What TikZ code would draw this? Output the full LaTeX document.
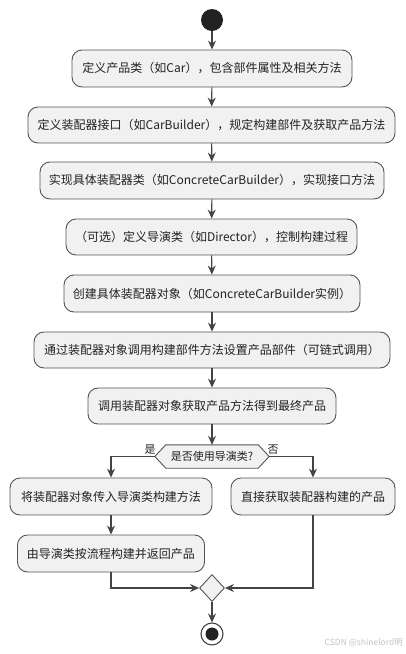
\documentclass[tikz,border=0pt]{standalone}
\usepackage{fontspec}
\setmainfont{Noto Sans CJK SC}
\usetikzlibrary{arrows.meta,shapes.geometric}
\definecolor{boxfill}{HTML}{F1F1F1}
\definecolor{boxline}{HTML}{555555}
\definecolor{flow}{HTML}{444444}
\definecolor{ink}{HTML}{222222}
\definecolor{wm}{HTML}{C4C4C4}
\tikzset{
  actbox/.style={draw=boxline, fill=boxfill, rounded corners=10pt, line width=0.9pt,
    minimum height=37pt, inner sep=0pt, text=ink, font=\fontsize{12}{14}\selectfont},
  flowline/.style={draw=flow, line width=1.1pt, -{Stealth[length=9pt,width=8pt,inset=3pt]}},
  plainline/.style={draw=flow, line width=1.1pt},
  lbl/.style={text=ink, font=\fontsize{11}{13}\selectfont, inner sep=0pt}
}
\begin{document}
\begin{tikzpicture}[x=1pt,y=-1pt]
\useasboundingbox (0,0) rectangle (406,654);
\fill[white] (0,0) rectangle (406,654);

\node[circle, fill=ink, minimum size=22pt, inner sep=0pt] (start) at (212,20) {};

\node[actbox, minimum width=280pt] (b1) at (212,68.5) {定义产品类（如Car），包含部件属性及相关方法};
\node[actbox, minimum width=367pt, minimum height=36pt] (b2) at (211.5,125) {定义装配器接口（如CarBuilder），规定构建部件及获取产品方法};
\node[actbox, minimum width=344pt] (b3) at (212,180.5) {实现具体装配器类（如ConcreteCarBuilder），实现接口方法};
\node[actbox, minimum width=291pt, minimum height=36pt] (b4) at (211.5,237) {（可选）定义导演类（如Director），控制构建过程};
\node[actbox, minimum width=296pt] (b5) at (212,293.5) {创建具体装配器对象（如ConcreteCarBuilder实例）};
\node[actbox, minimum width=356pt, minimum height=36pt] (b6) at (212,350) {通过装配器对象调用构建部件方法设置产品部件（可链式调用）};
\node[actbox, minimum width=248pt, minimum height=36pt] (b7) at (212,406) {调用装配器对象获取产品方法得到最终产品};

\node[minimum width=114pt, minimum height=23pt, inner sep=0pt, text=ink, font=\fontsize{11}{13}\selectfont] (dec) at (212,456.5) {是否使用导演类?};
\draw[draw=boxline, fill=boxfill, line width=0.9pt]
  (dec.west) -- ([xshift=11pt]dec.north west) -- ([xshift=-11pt]dec.north east) -- (dec.east)
  -- ([xshift=-11pt]dec.south east) -- ([xshift=11pt]dec.south west) -- cycle;
\node[text=ink, font=\fontsize{11}{13}\selectfont, inner sep=0pt] at (dec) {是否使用导演类?};

\node[lbl] (yes) at (150,450) {是};
\node[lbl] (no) at (273,450) {否};

\node[actbox, minimum width=202pt] (l1) at (111,496.5) {将装配器对象传入导演类构建方法};
\node[actbox, minimum width=164pt] (r1) at (313,496.5) {直接获取装配器构建的产品};
\node[actbox, minimum width=187pt] (l2) at (111,553.5) {由导演类按流程构建并返回产品};

\node[diamond, draw=boxline, fill=boxfill, line width=0.9pt, minimum width=25pt, minimum height=27pt, inner sep=0pt] (merge) at (212,588) {};

\node[circle, draw=flow, fill=white, line width=1.1pt, minimum size=22pt, inner sep=0pt] (stop) at (212,634) {};
\node[circle, fill=ink, minimum size=13pt, inner sep=0pt] (stopin) at (212,634) {};

\draw[flowline] (start) -- (b1);
\draw[flowline] (b1) -- (b2);
\draw[flowline] (b2) -- (b3);
\draw[flowline] (b3) -- (b4);
\draw[flowline] (b4) -- (b5);
\draw[flowline] (b5) -- (b6);
\draw[flowline] (b6) -- (b7);
\draw[flowline] (b7) -- (dec.north);
\draw[flowline] (dec.west) -| (l1.north);
\draw[flowline] (dec.east) -| (r1.north);
\draw[flowline] (l1.south) -- (l1.south |- l2.north);
\draw[flowline] (l2.south) |- (merge.west);
\draw[flowline] (r1.south) |- (merge.east);
\draw[flowline] (merge.south) -- (stop.north);

\node[text=wm, font=\fontsize{8.5}{10}\selectfont, anchor=east, inner sep=0pt] (wmark) at (403,643) {CSDN @shinelord明};
\end{tikzpicture}
\end{document}
